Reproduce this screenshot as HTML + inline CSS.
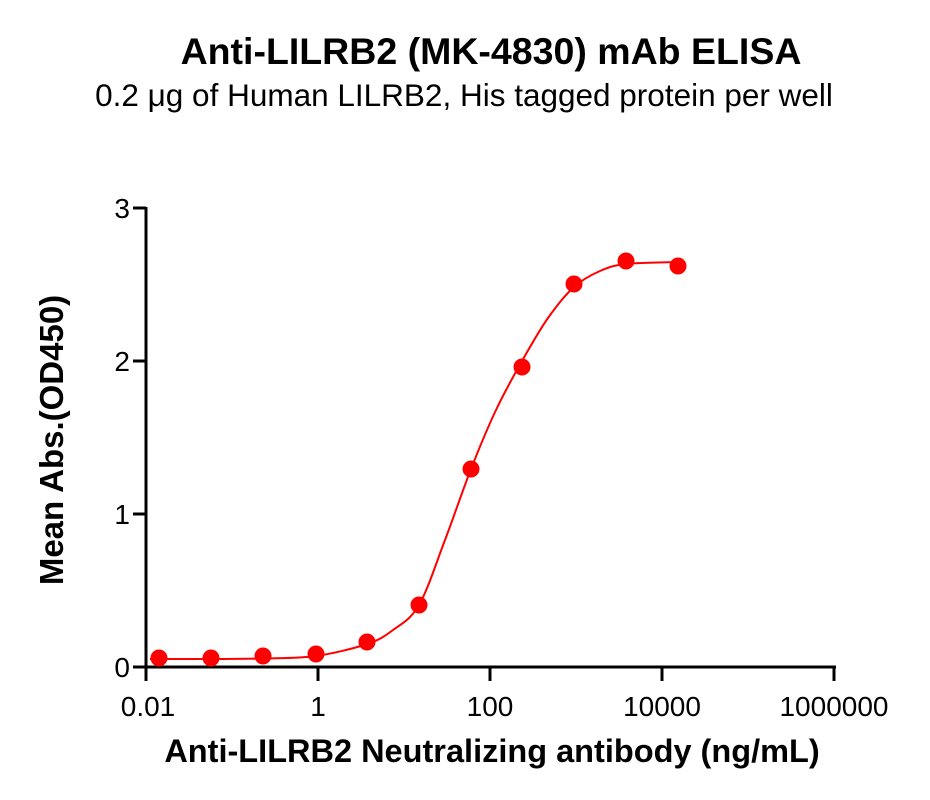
<!DOCTYPE html>
<html><head><meta charset="utf-8"><style>
body{margin:0;background:#fff;}
svg{display:block;font-family:"Liberation Sans",Arial,sans-serif;}
</style></head><body>
<svg width="930" height="800" viewBox="0 0 930 800">
<text x="491" y="64" text-anchor="middle" font-size="37.5" font-weight="bold">Anti-LILRB2 (MK-4830) mAb ELISA</text>
<text x="464" y="106" text-anchor="middle" font-size="31.5">0.2 μg of Human LILRB2, His tagged protein per well</text>
<g stroke="#000" stroke-width="3" fill="none">
<line x1="146" y1="207" x2="146" y2="668"/>
<line x1="133" y1="667" x2="836" y2="667"/>
<line x1="133" y1="208" x2="146" y2="208"/>
<line x1="133" y1="361" x2="146" y2="361"/>
<line x1="133" y1="514" x2="146" y2="514"/>
<line x1="146" y1="667" x2="146" y2="681"/>
<line x1="318" y1="667" x2="318" y2="681"/>
<line x1="490" y1="667" x2="490" y2="681"/>
<line x1="662" y1="667" x2="662" y2="681"/>
<line x1="834" y1="667" x2="834" y2="681"/>
</g>
<g font-size="28" text-anchor="end">
<text x="130" y="218">3</text><text x="130" y="371">2</text><text x="130" y="524">1</text><text x="130" y="677">0</text>
</g>
<g font-size="28" text-anchor="middle">
<text x="148" y="716">0.01</text><text x="318" y="716">1</text><text x="490" y="716">100</text><text x="662" y="716">10000</text><text x="834" y="716">1000000</text>
</g>
<text x="492" y="762" text-anchor="middle" font-size="32.5" font-weight="bold">Anti-LILRB2 Neutralizing antibody (ng/mL)</text>
<text transform="translate(63,440) rotate(-90)" text-anchor="middle" font-size="33" font-weight="bold">Mean Abs.(OD450)</text>
<path id="curve" fill="none" stroke="#f00" stroke-width="2"/>
<g fill="#f00">
<circle cx="159" cy="658" r="8.5"/><circle cx="211" cy="658" r="8.5"/><circle cx="263" cy="656" r="8.5"/><circle cx="316" cy="654" r="8.5"/><circle cx="367" cy="642" r="8.5"/><circle cx="419" cy="605" r="8.5"/><circle cx="471" cy="469" r="8.5"/><circle cx="522" cy="367" r="8.5"/><circle cx="574" cy="284" r="8.5"/><circle cx="626" cy="261" r="8.5"/><circle cx="678" cy="266" r="8.5"/>
</g>
</svg>
<script>
var P=[[150,659],[211,659],[263,658.5],[316,656],[367,644],[393,630],[419,605],[445,540],[471,469],[496,410],[522,361],[548,318],[574,287],[600,271],[626,264],[678,262]];
var d="M"+P[0][0]+","+P[0][1];
for(var i=0;i<P.length-1;i++){var p0=P[Math.max(i-1,0)],p1=P[i],p2=P[i+1],p3=P[Math.min(i+2,P.length-1)];
var c1=[p1[0]+(p2[0]-p0[0])/6,p1[1]+(p2[1]-p0[1])/6],c2=[p2[0]-(p3[0]-p1[0])/6,p2[1]-(p3[1]-p1[1])/6];
d+="C"+c1[0].toFixed(1)+","+c1[1].toFixed(1)+" "+c2[0].toFixed(1)+","+c2[1].toFixed(1)+" "+p2[0]+","+p2[1];}
document.getElementById("curve").setAttribute("d",d);
</script>
</body></html>
